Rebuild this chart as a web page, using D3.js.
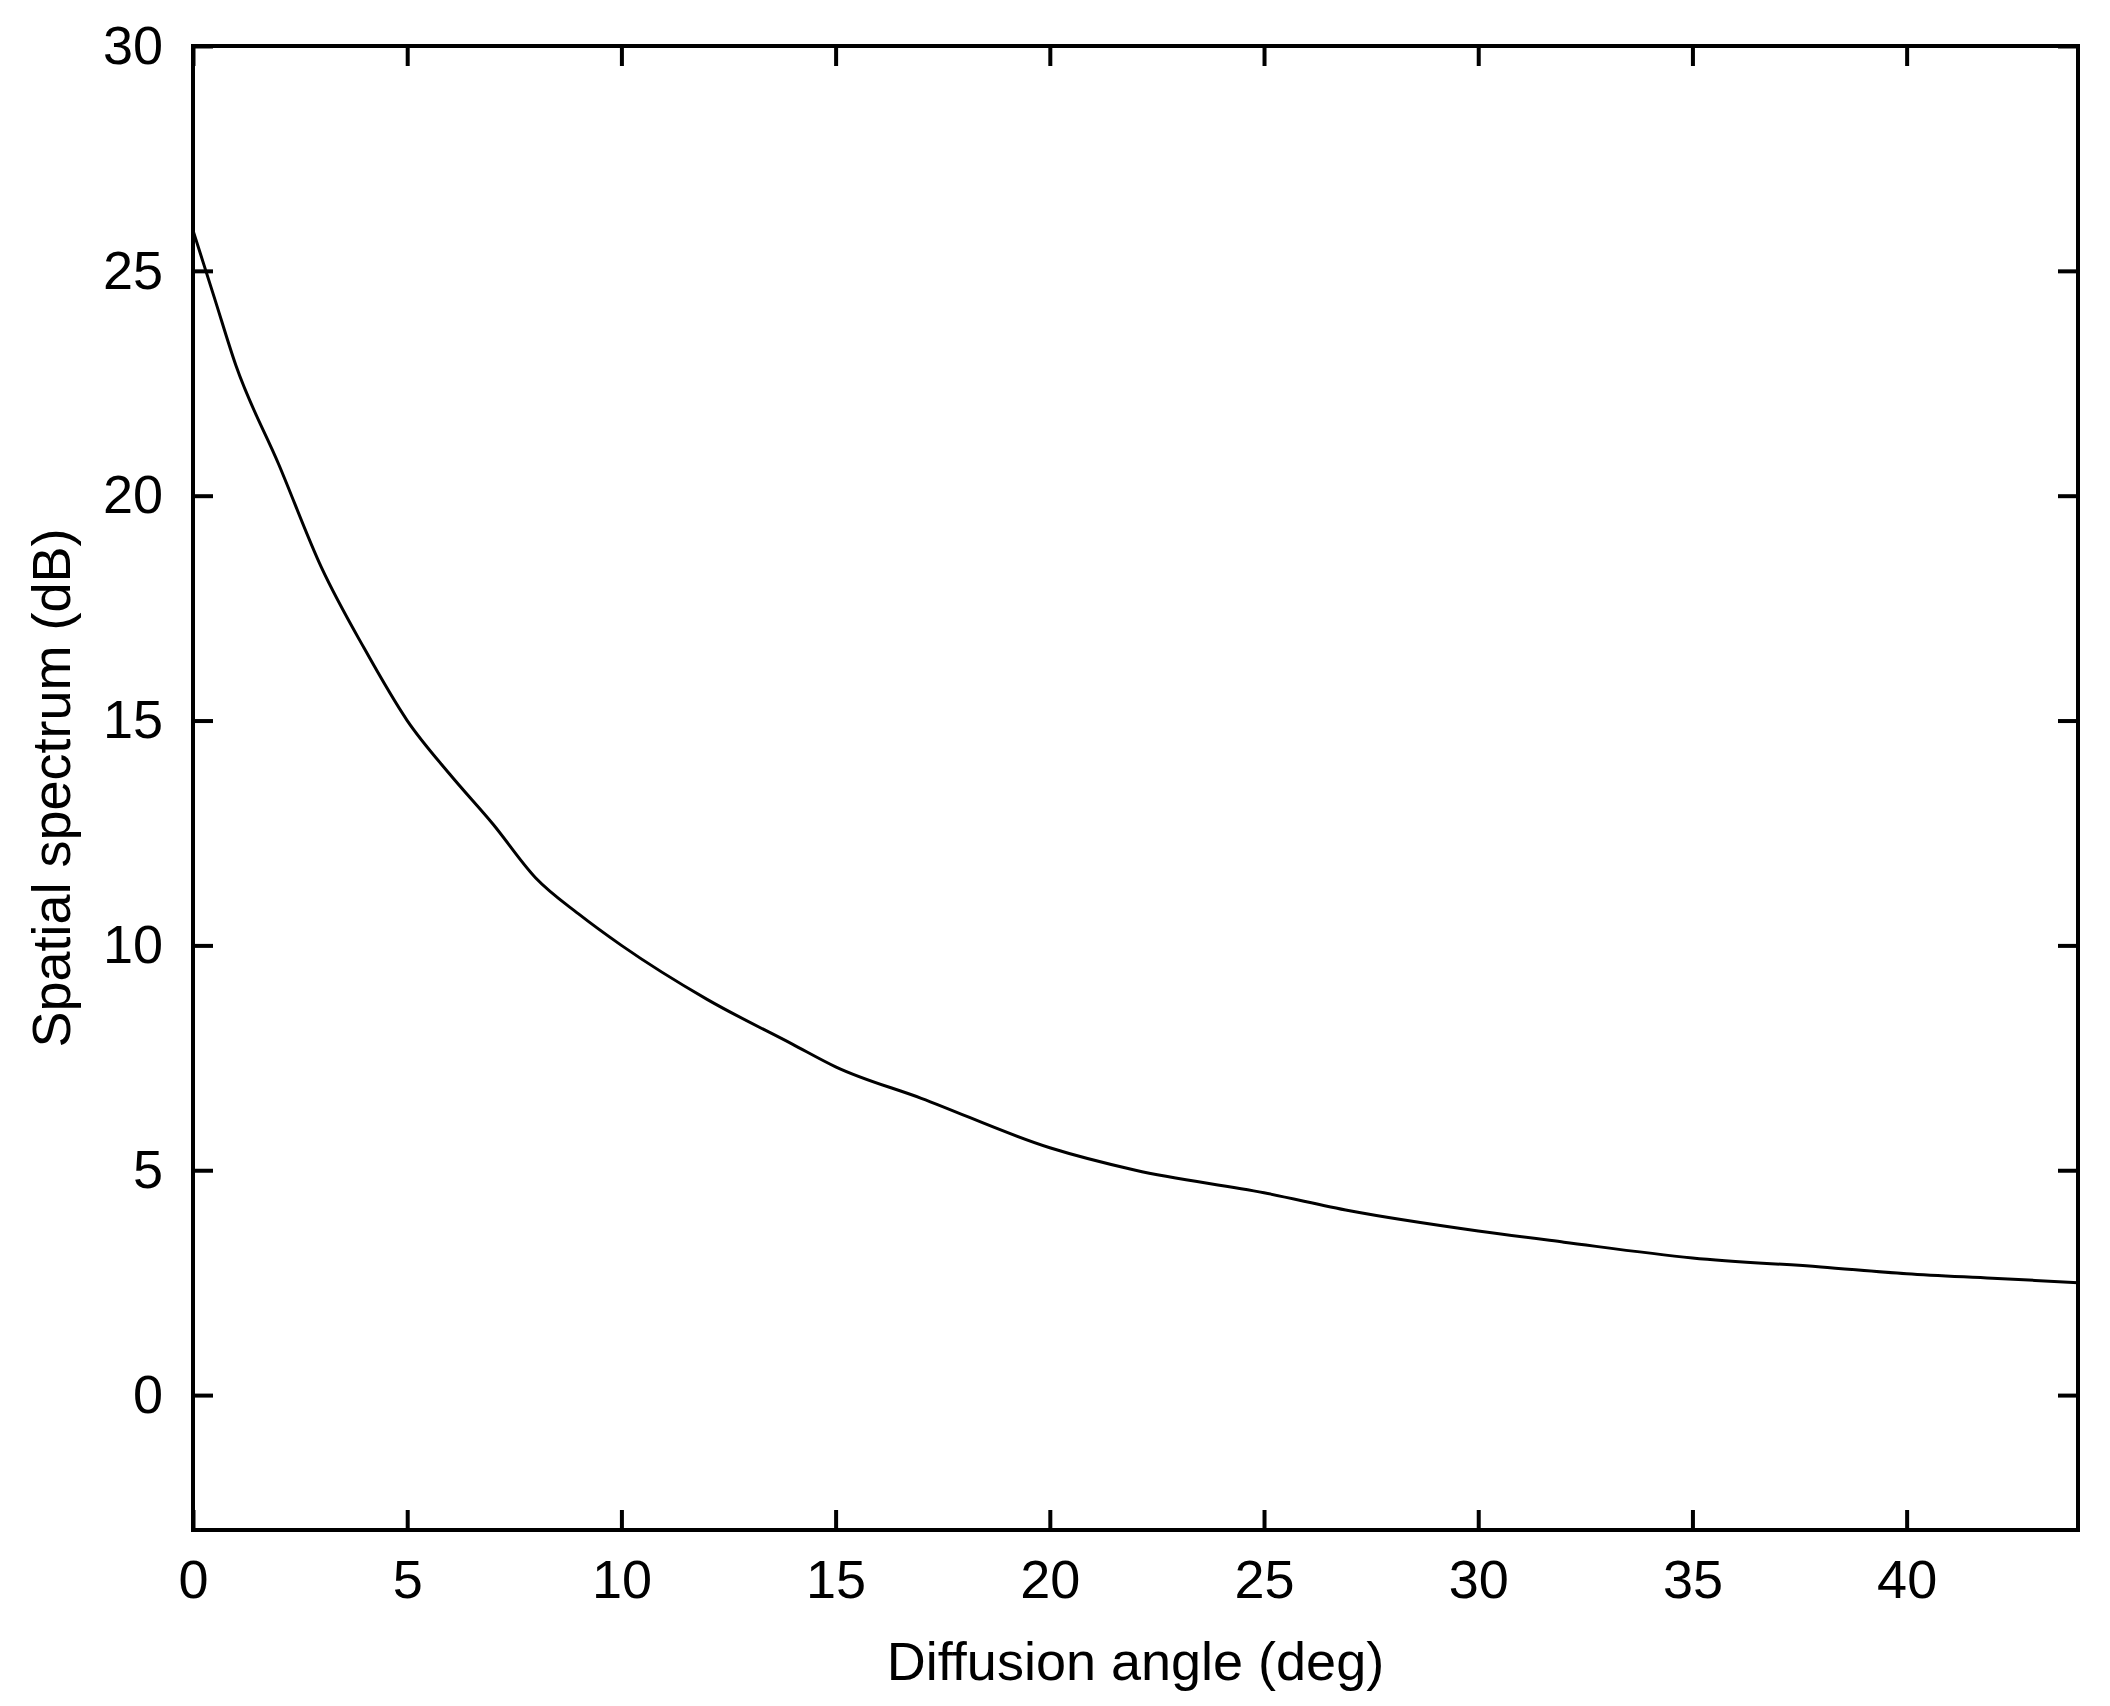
<!DOCTYPE html><html><head><meta charset="utf-8"><script src="https://cdn.jsdelivr.net/npm/d3@7"></script>
<style>body{margin:0;background:#fff}text{font-family:"Liberation Sans",Arial,sans-serif}</style></head><body>
<svg id="c" width="2110" height="1706"></svg>
<script>
const angles=[0,0.5,1,2,3,4,5,6,7,8,9,10,12,14,15,17,20,22,25,27,30,32,35,38,40,42,44];
const spectrum=[25.9,24.4,22.9,20.7,18.4,16.6,15.0,13.8,12.7,11.5,10.7,10.0,8.8,7.8,7.3,6.6,5.5,5.0,4.5,4.1,3.65,3.4,3.05,2.85,2.7,2.6,2.5];
const xTicks=[0,5,10,15,20,25,30,35,40];
const yTicks=[0,5,10,15,20,25,30];
const m={l:193,t:46,r:2078,b:1530};
const svg=d3.select("#c");
const x=d3.scaleLinear().domain([0,44]).range([m.l,m.r]);
const y=d3.scaleLinear().domain([-3,30]).range([m.b,m.t]);
const fs=54;
function style(g){g.select(".domain").remove();g.selectAll("line").attr("stroke","#000").attr("stroke-width",4);g.selectAll("text").attr("font-size",fs).attr("fill","#000");}
svg.append("g").attr("transform",`translate(0,${m.b})`).call(d3.axisBottom(x).tickValues(xTicks).tickSize(-20).tickPadding(30)).call(style);
svg.append("g").attr("transform",`translate(0,${m.t})`).call(d3.axisTop(x).tickValues(xTicks).tickSize(-20).tickFormat("")).call(style);
svg.append("g").attr("transform",`translate(${m.l},0)`).call(d3.axisLeft(y).tickValues(yTicks).tickSize(-20).tickPadding(30)).call(style);
svg.append("g").attr("transform",`translate(${m.r},0)`).call(d3.axisRight(y).tickValues(yTicks).tickSize(-20).tickFormat("")).call(style);
svg.append("rect").attr("x",m.l).attr("y",m.t).attr("width",m.r-m.l).attr("height",m.b-m.t).attr("fill","none").attr("stroke","#000").attr("stroke-width",4);
svg.append("path").datum(angles.map((a,i)=>[a,spectrum[i]])).attr("fill","none").attr("stroke","#000").attr("stroke-width",3)
 .attr("d",d3.line().x(d=>x(d[0])).y(d=>y(d[1])).curve(d3.curveMonotoneX));
svg.append("text").attr("x",(m.l+m.r)/2).attr("y",1680).attr("text-anchor","middle").attr("font-size",fs).text("Diffusion angle (deg)");
svg.append("text").attr("transform",`translate(70,${(m.t+m.b)/2}) rotate(-90)`).attr("text-anchor","middle").attr("font-size",fs).text("Spatial spectrum (dB)");
</script></body></html>
